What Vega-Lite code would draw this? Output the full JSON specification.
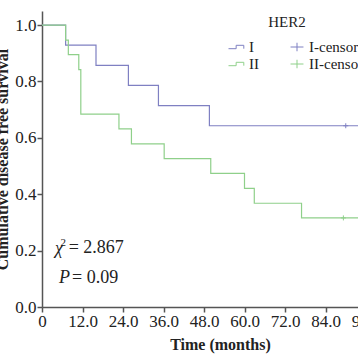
{
  "$schema": "https://vega.github.io/schema/vega-lite/v6.json",
  "autosize": {"type": "none"},
  "padding": {"left": 42, "top": 11, "right": 0, "bottom": 51},
  "width": 316,
  "height": 296,
  "background": "white",
  "config": {
    "view": {"stroke": null},
    "font": "Liberation Serif",
    "axis": {
      "grid": false,
      "domainColor": "#555555",
      "domainWidth": 1.5,
      "tickColor": "#555555",
      "tickWidth": 1.5,
      "tickSize": 5,
      "labelFont": "Liberation Serif",
      "labelFontSize": 17,
      "labelColor": "#222222",
      "titleFont": "Liberation Serif",
      "titleFontSize": 16,
      "titleFontWeight": "bold",
      "titleColor": "#222222"
    }
  },
  "layer": [
    {
      "data": {"values": [
        {"series": "I", "t": 0, "s": 1.0},
        {"series": "I", "t": 7, "s": 0.929},
        {"series": "I", "t": 16, "s": 0.857},
        {"series": "I", "t": 25.6, "s": 0.786},
        {"series": "I", "t": 34.5, "s": 0.714},
        {"series": "I", "t": 49.6, "s": 0.643},
        {"series": "I", "t": 100, "s": 0.643},
        {"series": "II", "t": 0, "s": 1.0},
        {"series": "II", "t": 7, "s": 0.947},
        {"series": "II", "t": 7.8, "s": 0.895},
        {"series": "II", "t": 10.9, "s": 0.842},
        {"series": "II", "t": 11.5, "s": 0.684},
        {"series": "II", "t": 22.8, "s": 0.632},
        {"series": "II", "t": 26.5, "s": 0.579},
        {"series": "II", "t": 36.2, "s": 0.526},
        {"series": "II", "t": 50, "s": 0.474},
        {"series": "II", "t": 60, "s": 0.421},
        {"series": "II", "t": 62.9, "s": 0.368},
        {"series": "II", "t": 76.9, "s": 0.316},
        {"series": "II", "t": 100, "s": 0.316}
      ]},
      "mark": {"type": "line", "interpolate": "step-after", "strokeWidth": 1.2, "clip": true},
      "encoding": {
        "x": {
          "field": "t", "type": "quantitative",
          "scale": {"domain": [0, 96], "range": [0, 324], "nice": false, "zero": true},
          "axis": {
            "values": [0, 12, 24, 36, 48, 60, 72, 84, 96],
            "tickCount": 20,
            "labelExpr": "datum.value == 0 ? '0' : format(datum.value, '.1f')",
            "labelPadding": 1,
            "labelFlush": false,
            "labelOverlap": false,
            "labelBound": false,
            "title": "Time (months)",
            "titleX": 178,
            "titleY": 42,
            "titleBaseline": "alphabetic",
            "titleAnchor": null,
            "titleAlign": "center"
          }
        },
        "y": {
          "field": "s", "type": "quantitative",
          "scale": {"domain": [0, 1.05], "nice": false},
          "axis": {
            "values": [0, 0.2, 0.4, 0.6, 0.8, 1.0],
            "tickCount": 20,
            "format": ".1f",
            "labelPadding": 1,
            "title": "Cumulative disease free survival",
            "titleX": -35,
            "titleY": 148,
            "titleAngle": -90,
            "titleBaseline": "alphabetic",
            "titleAlign": "center"
          }
        },
        "color": {
          "field": "series", "type": "nominal",
          "scale": {
            "domain": ["I", "II", "I-censored", "II-censored"],
            "range": ["#7f80c2", "#8fd08a", "#7f80c2", "#8fd08a"]
          },
          "legend": {
            "title": "HER2",
            "orient": "none",
            "legendX": 186,
            "legendY": 4,
            "columns": 2,
            "columnPadding": 29,
            "rowPadding": 0,
            "titleAnchor": "middle",
            "titleFont": "Liberation Serif",
            "titleFontSize": 15,
            "titleFontWeight": "normal",
            "titleColor": "#222222",
            "titlePadding": 8,
            "labelFont": "Liberation Serif",
            "labelFontSize": 15,
            "labelColor": "#222222",
            "labelOffset": 3,
            "labelLimit": 200,
            "symbolSize": 289,
            "symbolStrokeWidth": 1,
            "symbolFillColor": "transparent",
            "encode": {
              "title": {"update": {"dx": {"value": -16}}},
              "symbols": {"update": {
                "shape": {"signal": "test(/censored/, datum.value) ? 'M-0.76,0H0.76M0,-0.5V0.5' : 'M-1,0.2H-0.1V-0.2H0.8V0.2'"},
                "size": {"value": 289},
                "fill": {"value": "transparent"},
                "strokeWidth": {"value": 1}
              }}
            }
          }
        }
      }
    },
    {
      "data": {"values": [
        {"series": "I-censored", "t": 90, "s": 0.643},
        {"series": "II-censored", "t": 89.3, "s": 0.316}
      ]},
      "mark": {"type": "point", "shape": "M-1,0H1M0,-1V1", "size": 25, "filled": false, "strokeWidth": 1, "opacity": 1},
      "encoding": {
        "x": {"field": "t", "type": "quantitative"},
        "y": {"field": "s", "type": "quantitative"},
        "color": {"field": "series", "type": "nominal"}
      }
    },
    {
      "data": {"values": [{"label": "χ", "t": 3.85, "s": 0.205}]},
      "mark": {"type": "text", "align": "left", "baseline": "middle", "fontSize": 18, "fontStyle": "italic", "font": "Liberation Serif", "color": "#222222"},
      "encoding": {
        "x": {"field": "t", "type": "quantitative"},
        "y": {"field": "s", "type": "quantitative"},
        "text": {"field": "label"}
      }
    },
    {
      "data": {"values": [{"label": "2", "t": 5.5, "s": 0.228}]},
      "mark": {"type": "text", "align": "left", "baseline": "middle", "fontSize": 11, "font": "Liberation Serif", "color": "#222222"},
      "encoding": {
        "x": {"field": "t", "type": "quantitative"},
        "y": {"field": "s", "type": "quantitative"},
        "text": {"field": "label"}
      }
    },
    {
      "data": {"values": [
        {"label": "= 2.867", "t": 7.9, "s": 0.208},
        {"label": "= 0.09", "t": 8.9, "s": 0.102}
      ]},
      "mark": {"type": "text", "align": "left", "baseline": "middle", "fontSize": 18, "font": "Liberation Serif", "color": "#222222"},
      "encoding": {
        "x": {"field": "t", "type": "quantitative"},
        "y": {"field": "s", "type": "quantitative"},
        "text": {"field": "label"}
      }
    },
    {
      "data": {"values": [{"label": "P", "t": 5.0, "s": 0.102}]},
      "mark": {"type": "text", "align": "left", "baseline": "middle", "fontSize": 18, "fontStyle": "italic", "font": "Liberation Serif", "color": "#222222"},
      "encoding": {
        "x": {"field": "t", "type": "quantitative"},
        "y": {"field": "s", "type": "quantitative"},
        "text": {"field": "label"}
      }
    }
  ]
}
